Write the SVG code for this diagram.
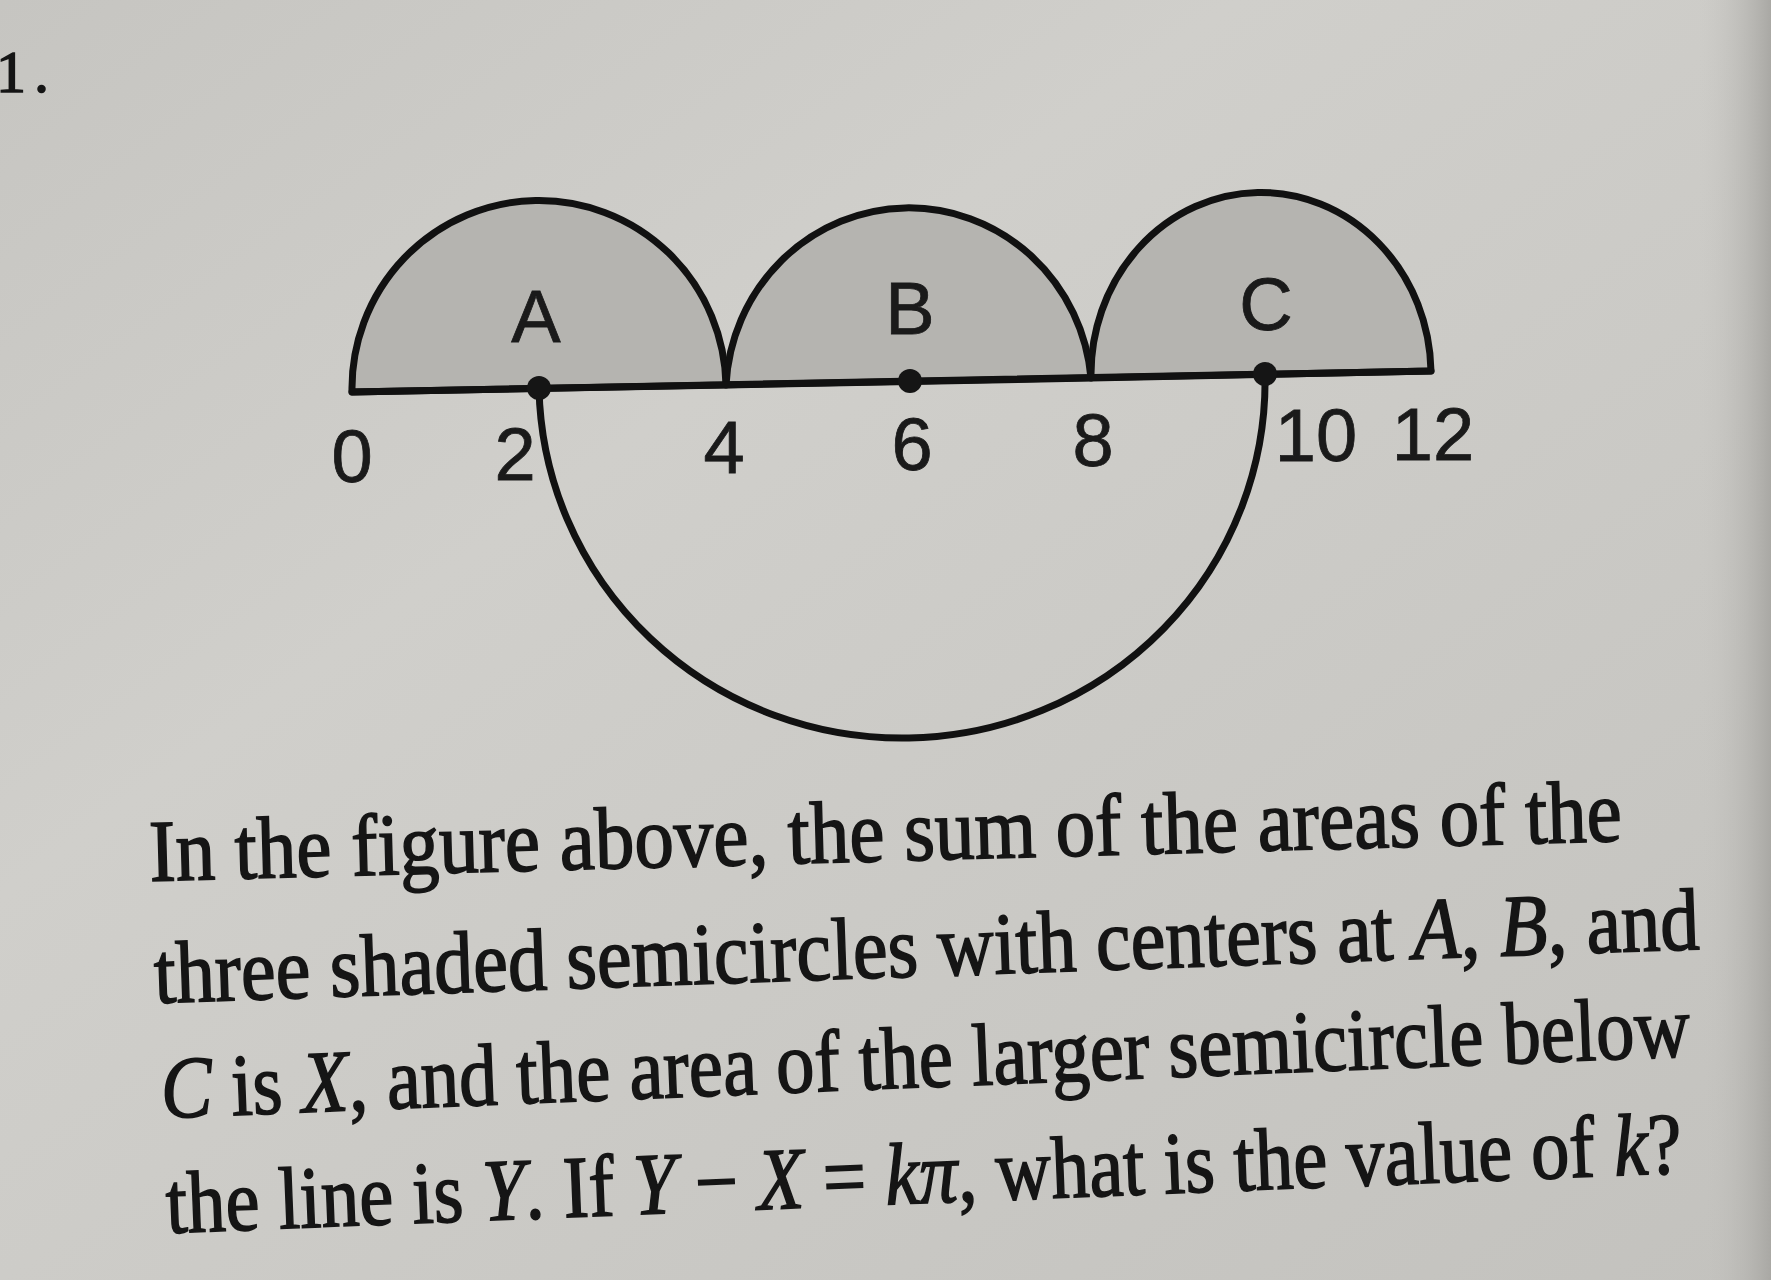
<svg xmlns="http://www.w3.org/2000/svg" width="1771" height="1280" viewBox="0 0 1771 1280">
  <defs>
    <linearGradient id="bg" x1="0" y1="0" x2="1" y2="1">
      <stop offset="0" stop-color="#c6c5c1"/>
      <stop offset="0.35" stop-color="#d0cfcb"/>
      <stop offset="1" stop-color="#c3c2be"/>
    </linearGradient>
    <linearGradient id="edge" x1="0" y1="0" x2="1" y2="0">
      <stop offset="0" stop-color="#c6c5c1" stop-opacity="0"/>
      <stop offset="1" stop-color="#a9a8a4" stop-opacity="1"/>
    </linearGradient>
  </defs>
  <style>
    .shade { fill: #b5b4b0; stroke: #111; stroke-width: 7; stroke-linejoin: round; }
    .line { fill: none; stroke: #111; stroke-width: 7; stroke-linecap: round; }
    .dot { fill: #151515; }
    .lbl { font-family: "Liberation Sans", Arial, sans-serif; font-size: 74px; fill: #1a1a1a; text-anchor: middle; stroke: #1a1a1a; stroke-width: 0.8; }
    .txt { font-family: "Liberation Serif", "Times New Roman", serif; font-size: 88px; fill: #151515; stroke: #151515; stroke-width: 1.6; }
    .it { font-style: italic; }
  </style>
  <rect x="0" y="0" width="1771" height="1280" fill="url(#bg)"/>
  <rect x="1700" y="0" width="71" height="1280" fill="url(#edge)"/>

  <text x="-4" y="92" font-family="Liberation Serif, serif" font-size="60" letter-spacing="8" fill="#151515" stroke="#151515" stroke-width="1.5">1.</text>

  <g id="semicircle-A">
    <path class="shade" d="M 352 392 A 187 188 0 0 1 726 385 Z"/>
  </g>
  <g id="semicircle-B">
    <path class="shade" d="M 726 385 A 183 187 0 0 1 1091 378 Z"/>
  </g>
  <g id="semicircle-C">
    <path class="shade" d="M 1091 378 A 170 182 0 0 1 1431 371 Z"/>
  </g>
  <g id="connectors">
    <path class="line" d="M 352 392 L 1431 371"/>
    <path class="line" d="M 539 388 A 363 357 0 0 0 1265 374"/>
  </g>
  <g id="point-A">
    <circle class="dot" cx="539" cy="388" r="12"/>
    <text class="lbl" x="536" y="342">A</text>
  </g>
  <g id="point-B">
    <circle class="dot" cx="910" cy="381" r="12"/>
    <text class="lbl" x="910" y="334">B</text>
  </g>
  <g id="point-C">
    <circle class="dot" cx="1265" cy="374" r="12"/>
    <text class="lbl" x="1266" y="330">C</text>
  </g>
  <g id="ticks">
    <text class="lbl" x="352" y="482">0</text>
    <text class="lbl" x="515" y="480">2</text>
    <text class="lbl" x="724" y="473">4</text>
    <text class="lbl" x="912" y="470">6</text>
    <text class="lbl" x="1093" y="466">8</text>
    <text class="lbl" x="1316" y="461">10</text>
    <text class="lbl" x="1433" y="460">12</text>
  </g>

  <g id="question">
    <text class="txt" transform="rotate(-1.56 150 881)" x="150" y="881" textLength="1473" lengthAdjust="spacingAndGlyphs">In the figure above, the sum of the areas of the</text>
    <text class="txt" transform="rotate(-2.0 155 1003)" x="155" y="1003" textLength="1546" lengthAdjust="spacingAndGlyphs">three shaded semicircles with centers at <tspan class="it">A</tspan>, <tspan class="it">B</tspan>, and</text>
    <text class="txt" transform="rotate(-2.32 162 1118)" x="162" y="1118" textLength="1530" lengthAdjust="spacingAndGlyphs"><tspan class="it">C</tspan> is <tspan class="it">X</tspan>, and the area of the larger semicircle below</text>
    <text class="txt" transform="rotate(-2.27 167 1233)" x="167" y="1233" textLength="1517" lengthAdjust="spacingAndGlyphs">the line is <tspan class="it">Y</tspan>. If <tspan class="it">Y</tspan> − <tspan class="it">X</tspan> = <tspan class="it">kπ</tspan>, what is the value of <tspan class="it">k</tspan>?</text>
  </g>
</svg>
